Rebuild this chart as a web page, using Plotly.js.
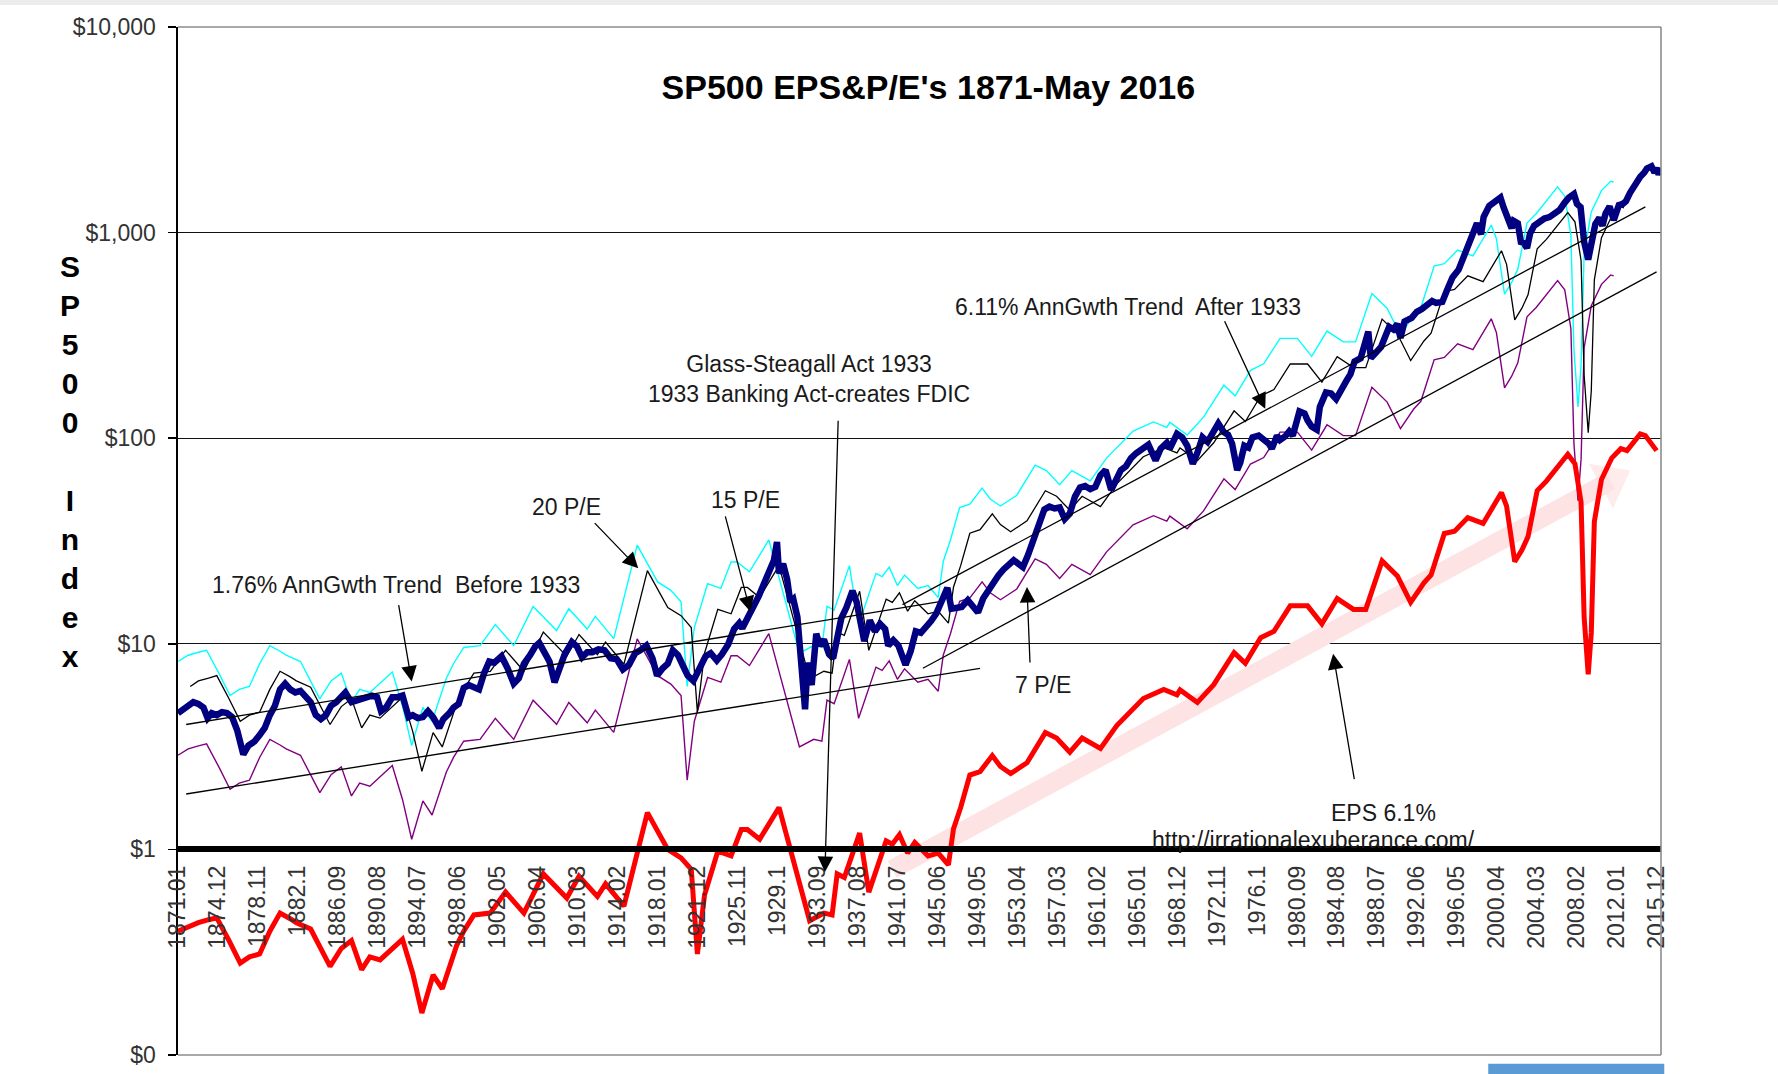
<!DOCTYPE html>
<html><head><meta charset="utf-8">
<script src="https://cdn.plot.ly/plotly-3.0.1.min.js"></script>
<style>html,body{margin:0;padding:0;background:#fff;}#chart{width:1778px;height:1074px;}</style>
</head><body><div id="chart"></div>
<script>
// ---------- DATA ----------
const xTickLabels = ["1871.01","1874.12","1878.11","1882.1","1886.09","1890.08","1894.07","1898.06","1902.05","1906.04","1910.03","1914.02","1918.01","1921.12","1925.11","1929.1","1933.09","1937.08","1941.07","1945.06","1949.05","1953.04","1957.03","1961.02","1965.01","1968.12","1972.11","1976.1","1980.09","1984.08","1988.07","1992.06","1996.05","2000.04","2004.03","2008.02","2012.01","2015.12"];
const yTickValues = [0.1, 1, 10, 100, 1000, 10000];
const yTickLabels = ["$0", "$1", "$10", "$100", "$1,000", "$10,000"];

const spxYears = [1871.0,1871.5,1872.0,1872.5,1873.0,1873.5,1873.9,1874.3,1874.8,1875.3,1875.8,1876.3,1876.8,1877.4,1877.9,1878.5,1879.0,1879.5,1880.0,1880.5,1881.0,1881.5,1882.0,1882.5,1883.0,1883.5,1884.0,1884.5,1885.0,1885.5,1886.0,1886.5,1887.0,1887.4,1888.0,1888.5,1889.0,1889.5,1890.0,1890.5,1890.9,1891.4,1892.0,1892.5,1893.0,1893.6,1894.0,1894.5,1895.0,1895.5,1896.0,1896.6,1897.0,1897.6,1898.0,1898.5,1899.0,1899.5,1900.0,1900.5,1901.0,1901.5,1902.0,1902.7,1903.3,1903.9,1904.4,1904.9,1905.5,1906.0,1906.4,1906.9,1907.4,1907.9,1908.4,1908.9,1909.6,1910.1,1910.6,1911.1,1911.6,1912.2,1912.8,1913.4,1914.0,1914.6,1915.2,1915.8,1916.3,1916.9,1917.5,1917.95,1918.5,1919.0,1919.5,1920.0,1920.5,1920.95,1921.5,1922.0,1922.7,1923.2,1923.8,1924.3,1924.9,1925.5,1926.0,1926.3,1926.8,1927.4,1927.9,1928.4,1928.9,1929.4,1929.7,1929.9,1930.3,1930.7,1931.0,1931.3,1931.7,1932.0,1932.45,1932.7,1933.1,1933.55,1933.9,1934.3,1934.8,1935.2,1935.6,1936.0,1936.5,1937.1,1937.5,1937.9,1938.25,1938.8,1939.3,1939.8,1940.3,1940.6,1941.1,1941.6,1942.0,1942.3,1942.8,1943.3,1943.8,1944.3,1944.8,1945.3,1945.9,1946.4,1946.8,1947.3,1947.8,1948.4,1948.9,1949.4,1949.9,1950.4,1950.9,1951.4,1951.9,1952.4,1952.9,1953.4,1953.8,1954.3,1954.9,1955.4,1955.9,1956.4,1956.9,1957.4,1957.9,1958.4,1958.9,1959.4,1959.9,1960.4,1960.9,1961.4,1961.9,1962.45,1962.9,1963.4,1963.9,1964.4,1964.9,1965.4,1965.9,1966.1,1966.8,1967.3,1967.9,1968.2,1968.9,1969.4,1969.9,1970.45,1970.9,1971.4,1971.9,1972.4,1972.95,1973.5,1973.9,1974.3,1974.8,1975.1,1975.5,1975.9,1976.3,1976.9,1977.4,1977.9,1978.2,1978.7,1979.0,1979.5,1979.9,1980.25,1980.9,1981.4,1981.7,1982.1,1982.6,1982.9,1983.5,1984.0,1984.5,1985.0,1985.5,1985.9,1986.3,1986.9,1987.3,1987.65,1987.9,1988.4,1988.9,1989.4,1989.7,1990.1,1990.5,1990.8,1991.2,1991.9,1992.4,1992.9,1993.5,1993.9,1994.3,1994.9,1995.4,1995.9,1996.5,1996.9,1997.4,1997.8,1998.3,1998.7,1998.95,1999.5,1999.9,2000.2,2000.6,2000.9,2001.3,2001.7,2001.9,2002.3,2002.6,2002.9,2003.2,2003.5,2003.9,2004.4,2004.9,2005.4,2005.9,2006.4,2006.9,2007.3,2007.8,2008.1,2008.45,2008.8,2009.2,2009.5,2009.9,2010.3,2010.6,2010.9,2011.3,2011.7,2012.2,2012.6,2012.9,2013.3,2013.7,2013.95,2014.3,2014.7,2014.95,2015.4,2015.7,2015.95,2016.1,2016.33];
const spxValues = [4.6,4.8,5.0,5.2,5.1,4.9,4.35,4.6,4.5,4.65,4.6,4.4,3.8,2.9,3.2,3.35,3.6,3.9,4.5,5.0,6.0,6.4,6.0,5.8,5.9,5.5,5.2,4.5,4.3,4.5,5.0,5.2,5.6,5.8,5.2,5.3,5.4,5.5,5.6,5.5,4.7,4.9,5.5,5.5,5.6,4.4,4.5,4.35,4.4,4.7,4.4,3.9,4.3,4.6,4.9,5.1,6.1,6.3,6.1,6.0,7.2,8.2,8.1,8.7,7.6,6.4,6.8,8.0,8.8,9.7,10.1,9.2,8.2,6.5,7.5,8.9,10.2,9.7,8.6,9.1,9.1,9.4,9.3,8.5,8.4,7.5,7.9,9.0,9.3,9.8,8.5,7.0,7.6,8.0,9.3,8.8,7.8,7.0,6.6,7.3,8.7,9.0,8.3,8.9,9.9,11.8,12.6,11.9,13.3,14.9,17.0,19.5,22.5,25.5,31.3,22.0,24.5,20.5,16.0,16.5,13.5,8.5,4.8,8.1,6.3,11.2,9.8,10.5,8.9,8.5,11.0,13.3,15.0,18.1,16.0,13.0,10.3,13.0,11.5,12.5,11.8,9.8,10.4,9.8,8.7,7.9,9.2,11.5,11.3,12.0,12.9,14.0,16.8,18.7,14.8,15.0,15.1,16.3,15.0,14.2,16.6,18.2,19.9,21.5,23.0,24.0,25.5,24.4,23.6,27.0,33.0,38.0,45.0,46.5,45.5,46.0,40.5,43.0,52.0,57.5,58.5,56.5,58.0,66.0,70.0,56.0,61.5,70.0,73.0,80.0,84.5,88.5,91.5,93.0,78.0,89.0,95.0,89.0,105.0,101.0,92.0,75.0,85.0,101.0,96.0,108.0,118.0,107.0,104.0,94.0,70.0,76.0,92.0,90.0,101.0,103.0,99.0,94.0,89.0,103.0,98.0,102.0,108.0,103.0,135.0,132.0,122.0,114.0,110.0,142.0,167.0,165.0,155.0,175.0,190.0,205.0,236.0,245.0,292.0,330.0,245.0,262.0,278.0,320.0,348.0,338.0,360.0,307.0,370.0,385.0,412.0,425.0,450.0,465.0,455.0,460.0,530.0,605.0,660.0,740.0,860.0,950.0,1110.0,980.0,1190.0,1350.0,1400.0,1440.0,1480.0,1330.0,1200.0,1050.0,1140.0,1110.0,900.0,890.0,840.0,990.0,1080.0,1130.0,1170.0,1190.0,1250.0,1290.0,1400.0,1480.0,1540.0,1380.0,1330.0,900.0,740.0,920.0,1100.0,1180.0,1080.0,1240.0,1340.0,1150.0,1360.0,1380.0,1420.0,1560.0,1680.0,1800.0,1870.0,1960.0,2050.0,2100.0,1960.0,2060.0,1910.0,2070.0];

const epsYears = [1871.0,1872.0,1873.0,1874.0,1874.8,1876.0,1877.1,1878.0,1879.0,1880.0,1881.0,1882.0,1882.6,1884.0,1885.0,1885.9,1887.0,1888.0,1889.0,1889.8,1890.8,1892.0,1893.0,1894.0,1894.9,1896.0,1896.9,1898.3,1899.0,1900.0,1901.6,1903.1,1904.9,1906.8,1909.1,1910.3,1912.1,1912.9,1914.7,1917.0,1919.0,1920.3,1921.3,1921.9,1922.6,1923.9,1925.2,1926.2,1926.8,1928.0,1929.9,1932.9,1934.3,1935.1,1935.6,1936.3,1937.8,1938.7,1940.4,1941.0,1941.7,1942.5,1943.2,1944.5,1945.5,1946.5,1947.0,1947.7,1948.6,1949.6,1950.8,1951.6,1952.6,1954.2,1956.0,1957.1,1958.4,1959.6,1961.4,1963.0,1965.6,1967.6,1968.9,1969.2,1970.9,1972.5,1974.5,1975.6,1977.1,1978.4,1980.0,1981.7,1983.1,1984.6,1986.2,1987.4,1989.0,1990.5,1991.8,1993.1,1993.8,1995.1,1996.1,1997.4,1998.9,2000.7,2001.2,2002.0,2002.7,2003.3,2004.2,2005.1,2006.3,2007.2,2007.9,2008.5,2008.8,2009.2,2009.5,2009.8,2010.5,2011.5,2012.4,2013.0,2014.3,2014.8,2015.9];
const epsValues = [0.40,0.42,0.44,0.455,0.465,0.36,0.28,0.30,0.31,0.40,0.49,0.46,0.44,0.41,0.33,0.27,0.33,0.36,0.26,0.30,0.29,0.33,0.365,0.25,0.16,0.245,0.21,0.34,0.40,0.48,0.49,0.62,0.49,0.76,0.58,0.74,0.59,0.68,0.53,1.51,1.0,0.91,0.80,0.31,0.6,0.98,0.93,1.25,1.25,1.12,1.6,0.45,0.49,0.48,0.76,0.73,1.2,0.62,1.1,1.06,1.18,0.96,1.08,0.93,0.96,0.84,1.26,1.6,2.3,2.39,2.86,2.53,2.34,2.64,3.7,3.48,2.97,3.48,3.1,4.0,5.42,6.0,5.65,5.97,5.18,6.33,9.06,8.04,10.7,11.5,15.3,15.3,12.5,16.6,14.7,14.7,25.3,21.4,15.9,19.8,21.6,34.4,35.3,41.1,38.5,54.4,46.7,25.1,28.6,33.2,55.6,61.8,73.4,83.5,75.2,48.8,13.5,7.1,11.3,39.3,63,80,88.9,87,105,103,87];

const pe15Years = [1872.2,1873.0,1874.0,1874.8,1876.0,1877.1,1878.0,1879.0,1880.0,1881.0,1882.0,1882.6,1884.0,1885.0,1885.9,1887.0,1888.0,1889.0,1889.8,1890.8,1892.0,1893.0,1894.0,1894.9,1896.0,1896.9,1898.3,1899.0,1900.0,1901.6,1903.1,1904.9,1906.8,1909.1,1910.3,1912.1,1912.9,1914.7,1917.0,1919.0,1920.3,1921.3,1921.9,1922.6,1923.9,1925.2,1926.2,1926.8,1928.0,1929.9,1932.9,1934.3,1935.1,1935.6,1936.3,1937.8,1938.7,1940.4,1941.0,1941.7,1942.5,1943.2,1944.5,1945.5,1946.5,1947.0,1947.7,1948.6,1949.6,1950.8,1951.6,1952.6,1954.2,1956.0,1957.1,1958.4,1959.6,1961.4,1963.0,1965.6,1967.6,1968.9,1969.2,1970.9,1972.5,1974.5,1975.6,1977.1,1978.4,1980.0,1981.7,1983.1,1984.6,1986.2,1987.4,1989.0,1990.5,1991.8,1993.1,1993.8,1995.1,1996.1,1997.4,1998.9,2000.7,2001.2,2002.0,2002.7,2003.3,2004.2,2005.1,2006.3,2007.2,2007.9,2008.5,2008.8,2009.2,2009.5,2009.8,2010.5,2011.5,2012.4,2012.7];
const pe15Values = [6.2,6.6,6.8,7.0,5.4,4.2,4.5,4.65,6.0,7.35,6.9,6.6,6.15,4.95,4.05,4.95,5.4,3.9,4.5,4.35,4.95,5.5,3.75,2.4,3.7,3.15,5.1,6.0,7.2,7.35,9.3,7.35,11.4,8.7,11.1,8.85,10.2,7.95,22.7,15.0,13.7,12.0,4.65,9.0,14.7,14.0,18.8,18.8,16.8,24.0,6.75,7.35,7.2,11.4,11.0,18.0,9.3,16.5,15.9,17.7,14.4,16.2,14.0,14.4,12.6,18.9,24.0,34.5,35.9,42.9,38.0,35.1,39.6,55.5,52.2,44.6,52.2,46.5,60.0,81.3,90.0,84.8,89.6,77.7,95.0,135.9,120.6,160.5,172.5,229.5,229.5,187.5,249.0,220.5,220.5,379.5,321.0,238.5,297.0,324.0,516.0,529.5,616.5,577.5,816.0,700.5,376.5,429.0,498.0,834.0,927.0,1101.0,1252.5,1128.0,732.0,202.5,106.5,169.5,589.5,945.0,1200.0,1333.5,1320.0];

const pe20Years = [1871.0,1872.0,1873.0,1873.8,1875.0,1876.1,1877.0,1878.0,1879.0,1880.0,1881.0,1881.6,1883.0,1884.0,1884.9,1886.0,1887.0,1888.0,1888.8,1889.8,1891.0,1892.0,1893.0,1893.9,1895.0,1895.9,1897.3,1898.0,1899.0,1900.6,1902.1,1903.9,1905.8,1908.1,1909.3,1911.1,1911.9,1913.7,1916.0,1918.0,1919.3,1920.3,1920.9,1921.6,1922.9,1924.2,1925.2,1925.8,1927.0,1928.9,1931.9,1933.3,1934.1,1934.6,1935.3,1936.8,1937.7,1939.4,1940.0,1940.7,1941.5,1942.2,1943.5,1944.5,1945.5,1946.0,1946.7,1947.6,1948.6,1949.8,1950.6,1951.6,1953.2,1955.0,1956.1,1957.4,1958.6,1960.4,1962.0,1964.6,1966.6,1967.9,1968.2,1969.9,1971.5,1973.5,1974.6,1976.1,1977.4,1979.0,1980.7,1982.1,1983.6,1985.2,1986.4,1988.0,1989.5,1990.8,1992.1,1992.8,1994.1,1995.1,1996.4,1997.9,1999.7,2000.2,2001.0,2001.7,2002.3,2003.2,2004.1,2005.3,2006.2,2006.9,2007.5,2007.8,2008.2,2008.5,2008.8,2009.5,2010.5,2011.4,2011.7];
const pe20Values = [8.2,8.8,9.1,9.3,7.2,5.6,6.0,6.2,8.0,9.8,9.2,8.8,8.2,6.6,5.4,6.6,7.2,5.2,6.0,5.8,6.6,7.3,5.0,3.2,4.9,4.2,6.8,8.0,9.6,9.8,12.4,9.8,15.2,11.6,14.8,11.8,13.6,10.6,30.2,20.0,18.2,16.0,6.2,12.0,19.6,18.6,25.0,25.0,22.4,32.0,9.0,9.8,9.6,15.2,14.6,24.0,12.4,22.0,21.2,23.6,19.2,21.6,18.6,19.2,16.8,25.2,32.0,46.0,47.8,57.2,50.6,46.8,52.8,74.0,69.6,59.4,69.6,62.0,80.0,108.4,120.0,113.0,119.4,103.6,126.6,181.2,160.8,214.0,230.0,306.0,306.0,250.0,332.0,294.0,294.0,506.0,428.0,318.0,396.0,432.0,688.0,706.0,822.0,770.0,1088.0,934.0,502.0,572.0,664.0,1112.0,1236.0,1468.0,1670.0,1504.0,976.0,270.0,142.0,226.0,786.0,1260.0,1600.0,1778.0,1760.0];

const pe7Years = pe20Years.slice();
const pe7Values = [2.87,3.08,3.19,3.26,2.52,1.96,2.1,2.17,2.8,3.43,3.22,3.08,2.87,2.31,1.89,2.31,2.52,1.82,2.1,2.03,2.31,2.56,1.75,1.12,1.72,1.47,2.38,2.8,3.36,3.43,4.34,3.43,5.32,4.06,5.18,4.13,4.76,3.71,10.57,7.0,6.37,5.6,2.17,4.2,6.86,6.51,8.75,8.75,7.84,11.2,3.15,3.43,3.36,5.32,5.11,8.4,4.34,7.7,7.42,8.26,6.72,7.56,6.51,6.72,5.88,8.82,11.2,16.1,16.73,20.02,17.71,16.38,18.48,25.9,24.36,20.79,24.36,21.7,28.0,37.94,42.0,39.55,41.79,36.26,44.31,63.42,56.28,74.9,80.5,107.1,107.1,87.5,116.2,102.9,102.9,177.1,149.8,111.3,138.6,151.2,240.8,247.1,287.7,269.5,380.8,326.9,175.7,200.2,232.4,389.2,432.6,513.8,584.5,526.4,341.6,94.5,49.7,79.1,275.1,441.0,560.0,622.3,616.0];

// straight trend lines (endpoints)
const trendPreUpperYears = [1871.8, 1945.5];
const trendPreUpperValues = [4.05, 16.0];
const trendPreLowerYears = [1871.8, 1949.6];
const trendPreLowerValues = [1.86, 7.6];
const trendPostUpperYears = [1942.0, 2014.8];
const trendPostUpperValues = [15.5, 1334];
const trendPostLowerYears = [1944.0, 2015.9];
const trendPostLowerValues = [7.6, 644];
const epsTrendYears = [1941.0, 2011.4];
const epsTrendValues = [0.8, 62];

// ---------- CHART ----------
const FONT = "Liberation Sans, Arial, sans-serif";
const L = (v) => Math.log10(v);
function line(x, y, color, width) {
  return {x: x, y: y, type: 'scatter', mode: 'lines', line: {color: color, width: width},
          hoverinfo: 'skip', showlegend: false};
}
const traces = [
  {x: epsTrendYears, y: epsTrendValues, type: 'scatter', mode: 'lines+markers',
   line: {color: '#fde3e3', width: 19},
   marker: {symbol: 'triangle-up', size: [0, 44], color: '#fde3e3', angleref: 'previous', line: {width: 0}},
   hoverinfo: 'skip', showlegend: false},
  line(pe20Years, pe20Values, '#00ffff', 1.4),
  line(pe7Years, pe7Values, '#800080', 1.4),
  line(pe15Years, pe15Values, '#000000', 1.3),
  line(spxYears, spxValues, '#000080', 6.5),
  line(epsYears, epsValues, '#ff0000', 5),
  line(trendPreUpperYears, trendPreUpperValues, '#000000', 1.3),
  line(trendPreLowerYears, trendPreLowerValues, '#000000', 1.3),
  line(trendPostUpperYears, trendPostUpperValues, '#000000', 1.3),
  line(trendPostLowerYears, trendPostLowerValues, '#000000', 1.3)
];

function label(text, x, yv) {
  return {text: text, x: x, y: L(yv), xref: 'x', yref: 'y', showarrow: false,
          font: {family: FONT, size: 23, color: '#1a1a1a'}, xanchor: 'center', yanchor: 'middle'};
}
function arrow(tx, tyv, hx, hyv) {
  return {text: '', x: hx, y: L(hyv), ax: tx, ay: L(tyv), xref: 'x', yref: 'y', axref: 'x', ayref: 'y',
          showarrow: true, arrowhead: 2, arrowsize: 2.4, arrowwidth: 1.3, arrowcolor: '#000', standoff: 0, startstandoff: 0};
}
const annotations = [
  label('20 P/E', 1909.1, 46.5),
  arrow(1911.7, 39.3, 1916.1, 23.3),
  label('15 P/E', 1926.6, 50.0),
  arrow(1924.6, 42.4, 1927.1, 14.3),
  label('1.76% AnnGwth Trend  Before 1933', 1892.4, 19.3),
  arrow(1892.6, 15.7, 1893.9, 6.55),
  label('Glass-Steagall Act 1933<br>1933 Banking Act-creates FDIC', 1932.8, 195),
  arrow(1935.7, 123.6, 1934.4, 0.776),
  label('6.11% AnnGwth Trend  After 1933', 1964.1, 435),
  arrow(1973.5, 377, 1977.55, 139),
  label('7 P/E', 1955.8, 6.3),
  arrow(1954.5, 7.98, 1954.2, 18.9),
  label('EPS 6.1%', 1989.1, 1.5),
  arrow(1986.3, 2.16, 1984.2, 8.95),
  label('http://irrationalexuberance.com/', 1982.25, 1.11),
  {text: '<b>S<br>P<br>5<br>0<br>0<br> <br>I<br>n<br>d<br>e<br>x</b>', xref: 'paper', yref: 'paper',
   x: -0.0728, y: 0.577, xanchor: 'center', yanchor: 'middle', showarrow: false,
   font: {family: FONT, size: 30, color: '#000'}}
];

const layout = {
  width: 1778, height: 1074,
  margin: {l: 178, r: 117, t: 27, b: 19, pad: 0},
  paper_bgcolor: '#ffffff', plot_bgcolor: '#ffffff',
  font: {family: FONT, color: '#222'},
  title: {text: "<b>SP500 EPS&amp;P/E's 1871-May 2016</b>", x: 0.506, xanchor: 'center',
          y: 0.919, yanchor: 'middle', xref: 'paper', font: {family: FONT, size: 34, color: '#000'}},
  showlegend: false,
  xaxis: {
    range: [1871, 2016.333], anchor: 'free', position: 0.2, side: 'bottom',
    showline: true, linecolor: '#000', linewidth: 6,
    showgrid: false, zeroline: false,
    tickmode: 'array', tickvals: xTickLabels.map((_, i) => 1871 + i * 47 / 12), ticktext: xTickLabels,
    tickangle: -90, ticks: '', ticklabelstandoff: 4,
    tickfont: {family: FONT, size: 23, color: '#333'}, fixedrange: true
  },
  yaxis: {
    type: 'log', range: [-1, 4],
    tickmode: 'array', tickvals: yTickValues, ticktext: yTickLabels,
    showgrid: true, gridcolor: '#111', gridwidth: 1.2,
    showline: true, linecolor: '#000', linewidth: 1.6,
    ticks: 'outside', ticklen: 8, tickcolor: '#000', tickwidth: 1.5,
    ticklabelstandoff: 8,
    tickfont: {family: FONT, size: 23, color: '#333'}, zeroline: false, fixedrange: true
  },
  shapes: [
    {type: 'line', xref: 'paper', yref: 'paper', x0: 0, x1: 1, y0: 1, y1: 1, line: {color: '#8c8c8c', width: 1.6}, layer: 'above'},
    {type: 'line', xref: 'paper', yref: 'paper', x0: 1, x1: 1, y0: 0, y1: 1, line: {color: '#8c8c8c', width: 1.6}, layer: 'above'},
    {type: 'line', xref: 'paper', yref: 'paper', x0: 0, x1: 1, y0: 0, y1: 0, line: {color: '#8c8c8c', width: 1.6}, layer: 'above'},
    {type: 'rect', xref: 'paper', yref: 'paper', x0: -0.125, x1: 1.08, y0: 1.0215, y1: 1.03, fillcolor: '#ececec', line: {width: 0}},
    {type: 'rect', xref: 'paper', yref: 'paper', x0: 0.8835, x1: 1.0022, y0: -0.03, y1: -0.0085, fillcolor: '#5b9bd5', line: {width: 0}}
  ],
  annotations: annotations
};

Plotly.newPlot('chart', traces, layout, {displayModeBar: false, staticPlot: true});
</script></body></html>
